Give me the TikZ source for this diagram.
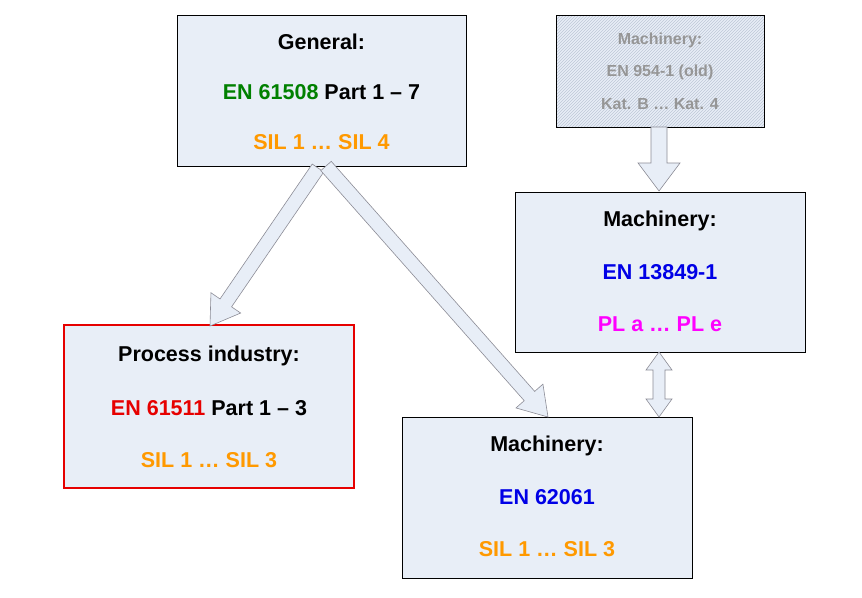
\documentclass[tikz,border=0pt]{standalone}
\usepackage{fontspec}
\setmainfont{Liberation Sans}
\usetikzlibrary{calc,patterns}
\definecolor{boxfill}{RGB}{232,238,247}
\definecolor{arrline}{RGB}{140,140,150}
\definecolor{egreen}{RGB}{0,128,0}
\definecolor{eorange}{RGB}{255,153,0}
\definecolor{eblue}{RGB}{0,0,230}
\definecolor{emag}{RGB}{255,0,255}
\definecolor{ered}{RGB}{230,0,0}
\definecolor{egrey}{RGB}{150,150,150}
\definecolor{hatch}{RGB}{190,200,215}
\tikzset{
  box/.style={draw=black,fill=boxfill,line width=0.8pt},
  arr/.style={draw=arrline,fill=boxfill,line width=0.6pt,line join=miter},
  big/.style={font=\bfseries\fontsize{21.5}{24}\selectfont,anchor=center,inner sep=0},
  small/.style={font=\bfseries\fontsize{16}{19}\selectfont,anchor=center,inner sep=0,text=egrey},
}
\newcommand\barrow[2]{%
  \coordinate (hb) at ($(#2)!28pt!(#1)$);
  \draw[arr] ($(#1)!7pt!90:(#2)$) -- ($(hb)!7pt!-90:(#1)$) -- ($(hb)!18pt!-90:(#1)$) -- (#2)
    -- ($(hb)!18pt!90:(#1)$) -- ($(hb)!7pt!90:(#1)$) -- ($(#1)!7pt!-90:(#2)$) -- cycle;}
\begin{document}
\begin{tikzpicture}[x=1pt,y=-1pt]
\useasboundingbox (0,0) rectangle (862,597);
% boxes
\path[box] (177,15) rectangle (466,166);
\path[fill=boxfill,pattern=north east lines,pattern color=hatch] (556,15) rectangle (764,127);
\draw[black,line width=0.8pt,fill=boxfill] (556,15) rectangle (764,127);
\path[pattern=north east lines,pattern color=hatch] (556,15) rectangle (764,127);
\draw[black,line width=0.8pt] (556,15) rectangle (764,127);
\path[box] (515,192) rectangle (805,352);
\path[box,draw=ered,line width=2pt] (64,325) rectangle (354,488);
\path[box] (402,417) rectangle (692,578);
% coordinates for connectors
\coordinate (gA) at (318,168);
\coordinate (pT) at (210,326);
\coordinate (gB) at (326,166);
\coordinate (mT) at (548,417);
\coordinate (oA) at (659,127);
\coordinate (nT) at (659,191);
% arrows
\barrow{gA}{pT}
\barrow{gB}{mT}
\draw[arr] (651,127) -- (651,163) -- (638,163) -- (659,191) -- (680,163) -- (667,163) -- (667,127) -- cycle;
\draw[arr] (659,352) -- (672,370) -- (665,370) -- (665,399) -- (672,399) -- (659,417)
  -- (646,399) -- (653,399) -- (653,370) -- (646,370) -- cycle;
% texts
\node[big] (g1) at (321.5,42) {General:};
\node[big] (g2) at (321.5,92) {\textcolor{egreen}{EN 61508} Part 1 – 7};
\node[big,text=eorange] (g3) at (321.5,142) {SIL 1 … SIL 4};
\node[small] (o1) at (660,40) {Machinery:};
\node[small] (o2) at (660,72) {EN 954-1 (old)};
\node[small] (o3) at (660,104) {Kat. B … Kat. 4};
\node[big] (n1) at (660,221) {Machinery:};
\node[big,text=eblue] (n2) at (660,272) {EN 13849-1};
\node[big,text=emag] (n3) at (660,324) {PL a … PL e};
\node[big] (p1) at (209,356) {Process industry:};
\node[big] (p2) at (209,408) {\textcolor{ered}{EN 61511} Part 1 – 3};
\node[big,text=eorange] (p3) at (209,460) {SIL 1 … SIL 3};
\node[big] (m1) at (547,446) {Machinery:};
\node[big,text=eblue] (m2) at (547,497) {EN 62061};
\node[big,text=eorange] (m3) at (547,549) {SIL 1 … SIL 3};
\end{tikzpicture}
\end{document}
